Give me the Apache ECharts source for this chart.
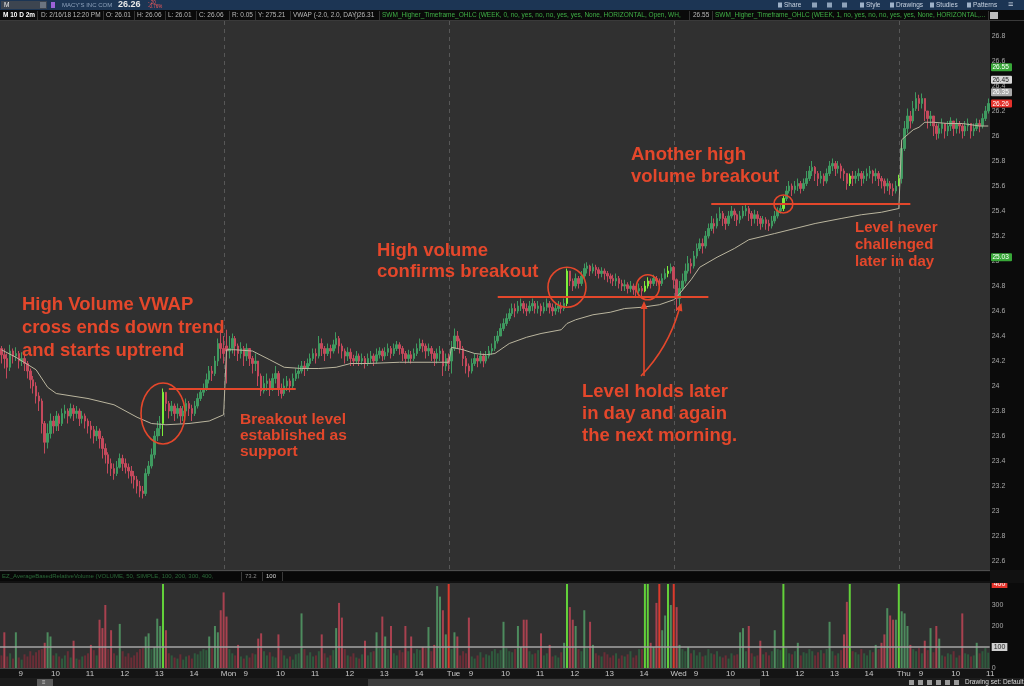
<!DOCTYPE html>
<html><head><meta charset="utf-8">
<script src="https://cdn.jsdelivr.net/npm/echarts@6/dist/echarts.min.js"></script>
<style>html,body{margin:0;padding:0;background:#303030;overflow:hidden}#c{width:1024px;height:686px}</style>
</head><body><div id="c"></div>
<script>
// ================= DATA =================
const dayNames = ['Fri','Mon','Tue','Wed','Thu'];
const dayOpen  = [24.30, 24.32, 24.20, 24.85, 25.66];

const friC = [24.25,24.22,24.15,24.28,24.24,24.26,24.2,24.22,24.18,24.12,
  24.05,24.0,23.92,23.88,23.7,23.55,23.62,23.72,23.68,23.76,
  23.7,23.78,23.8,23.76,23.82,23.78,23.8,23.74,23.76,23.72,
  23.68,23.65,23.6,23.64,23.58,23.5,23.45,23.38,23.34,23.3,
  23.35,23.42,23.38,23.35,23.32,23.28,23.25,23.2,23.16,23.14,
  23.3,23.36,23.45,23.6,23.66,23.7,23.95,23.86,23.8,23.84,
  23.78,23.82,23.76,23.8,23.86,23.82,23.78,23.84,23.9,23.95,
  23.98,24.05,24.12,24.1,24.2,24.34,24.3,24.26];
const friH = [24.32,24.3,24.26,24.33,24.3,24.31,24.28,24.27,24.25,24.2,
  24.14,24.08,24.03,23.95,23.9,23.72,23.7,23.78,23.76,23.8,
  23.78,23.82,23.85,23.82,23.86,23.85,23.84,23.82,23.8,23.78,
  23.74,23.72,23.68,23.68,23.66,23.6,23.54,23.47,23.42,23.38,
  23.4,23.46,23.45,23.42,23.38,23.36,23.32,23.28,23.24,23.2,
  23.34,23.4,23.5,23.64,23.72,23.76,23.98,23.94,23.88,23.88,
  23.86,23.86,23.84,23.84,23.9,23.88,23.85,23.88,23.94,23.98,
  24.02,24.1,24.16,24.16,24.24,24.38,24.45,24.4];
const friL = [24.18,24.14,24.06,24.12,24.18,24.2,24.14,24.16,24.12,24.06,
  23.98,23.94,23.86,23.8,23.62,23.46,23.5,23.58,23.62,23.64,
  23.64,23.68,23.74,23.7,23.74,23.72,23.74,23.68,23.7,23.66,
  23.62,23.58,23.54,23.56,23.5,23.42,23.38,23.3,23.28,23.25,
  23.28,23.34,23.32,23.3,23.26,23.22,23.18,23.14,23.11,23.1,
  23.12,23.28,23.34,23.42,23.56,23.6,23.6,23.8,23.74,23.76,
  23.72,23.74,23.7,23.72,23.78,23.76,23.72,23.76,23.82,23.88,
  23.92,23.96,24.02,24.04,24.08,24.16,24.22,24.18];
const friV = [60,170,55,70,45,170,50,40,65,55,
  80,60,75,85,90,120,170,150,60,70,
  55,45,60,80,50,130,45,40,55,60,
  70,110,85,60,230,190,300,90,180,70,
  60,210,80,55,70,50,60,75,90,95,
  150,165,90,100,235,200,400,180,70,60,
  50,45,65,40,55,60,45,70,65,80,
  90,85,150,95,200,170,275,360];

const monC = [24.28,24.3,24.38,24.32,24.26,24.3,24.24,24.3,24.22,24.18,
  24.2,24.08,23.96,24.02,24.04,23.98,24.06,24.1,23.98,23.94,
  24.0,24.04,24.0,24.06,24.1,24.12,24.16,24.14,24.18,24.22,
  24.26,24.24,24.34,24.3,24.26,24.3,24.28,24.33,24.38,24.32,
  24.28,24.24,24.27,24.22,24.2,24.24,24.2,24.22,24.18,24.22,
  24.24,24.2,24.25,24.28,24.24,24.27,24.3,24.26,24.3,24.33,
  24.3,24.26,24.22,24.25,24.22,24.26,24.3,24.34,24.32,24.28,
  24.3,24.26,24.22,24.26,24.28,24.16,24.22,24.18];
const monH = [24.45,24.4,24.42,24.4,24.34,24.35,24.32,24.34,24.3,24.24,
  24.26,24.2,24.1,24.08,24.1,24.06,24.1,24.16,24.12,24.02,
  24.06,24.08,24.06,24.1,24.14,24.17,24.2,24.2,24.22,24.26,
  24.3,24.3,24.4,24.38,24.32,24.34,24.33,24.37,24.43,24.4,
  24.34,24.3,24.31,24.3,24.25,24.28,24.26,24.26,24.24,24.26,
  24.28,24.26,24.3,24.31,24.3,24.31,24.34,24.32,24.34,24.36,
  24.35,24.32,24.28,24.29,24.28,24.3,24.34,24.38,24.37,24.34,
  24.34,24.32,24.28,24.3,24.32,24.3,24.26,24.26];
const monL = [24.02,24.22,24.26,24.24,24.2,24.22,24.16,24.2,24.16,24.1,
  24.12,24.0,23.92,23.94,23.96,23.92,23.96,24.02,23.92,23.9,
  23.92,23.96,23.95,23.98,24.04,24.06,24.1,24.08,24.12,24.16,
  24.2,24.18,24.22,24.24,24.2,24.24,24.22,24.26,24.3,24.26,
  24.22,24.18,24.2,24.16,24.16,24.18,24.16,24.17,24.14,24.16,
  24.18,24.16,24.18,24.22,24.2,24.21,24.24,24.22,24.24,24.28,
  24.25,24.2,24.18,24.19,24.18,24.2,24.24,24.28,24.27,24.22,
  24.24,24.2,24.16,24.18,24.2,24.08,24.12,24.12];
const monV = [245,90,70,60,110,55,45,60,50,70,
  65,140,165,80,60,75,55,50,160,85,
  60,45,55,40,65,70,260,90,60,75,
  55,60,80,160,70,50,60,85,190,310,
  240,90,60,55,70,50,45,65,130,60,
  75,80,170,95,245,150,90,200,70,60,
  85,75,200,80,150,70,90,85,100,95,
  195,80,110,390,340,275,160,400];

const tueC = [24.3,24.4,24.36,24.3,24.22,24.16,24.12,24.18,24.22,24.2,
  24.24,24.2,24.24,24.28,24.3,24.36,24.4,24.46,24.5,24.54,
  24.58,24.62,24.6,24.64,24.66,24.62,24.6,24.64,24.66,24.62,
  24.64,24.6,24.63,24.66,24.63,24.6,24.62,24.64,24.62,24.66,
  24.92,24.84,24.8,24.86,24.82,24.88,24.94,24.96,24.92,24.95,
  24.93,24.9,24.92,24.9,24.88,24.86,24.84,24.86,24.82,24.8,
  24.81,24.78,24.8,24.77,24.76,24.78,24.76,24.8,24.84,24.82,
  24.86,24.84,24.82,24.86,24.9,24.92,24.95,24.85];
const tueH = [24.36,24.46,24.44,24.38,24.32,24.24,24.18,24.22,24.26,24.25,
  24.28,24.26,24.28,24.32,24.34,24.4,24.44,24.5,24.54,24.58,
  24.62,24.66,24.66,24.68,24.7,24.68,24.66,24.68,24.7,24.68,
  24.68,24.66,24.67,24.7,24.68,24.66,24.66,24.68,24.67,24.7,
  24.94,24.92,24.86,24.9,24.88,24.92,24.98,24.99,24.97,24.98,
  24.97,24.95,24.95,24.94,24.92,24.9,24.89,24.9,24.88,24.85,
  24.85,24.83,24.84,24.82,24.8,24.82,24.8,24.84,24.87,24.86,
  24.89,24.88,24.86,24.9,24.94,24.96,24.98,24.96];
const tueL = [24.1,24.28,24.3,24.26,24.16,24.1,24.07,24.1,24.16,24.15,
  24.18,24.15,24.18,24.22,24.25,24.28,24.34,24.4,24.44,24.48,
  24.52,24.56,24.55,24.58,24.6,24.58,24.56,24.58,24.6,24.58,
  24.58,24.56,24.58,24.6,24.58,24.56,24.57,24.59,24.58,24.6,
  24.64,24.8,24.76,24.78,24.78,24.8,24.86,24.9,24.88,24.9,
  24.88,24.86,24.87,24.85,24.83,24.82,24.8,24.8,24.78,24.76,
  24.76,24.74,24.75,24.73,24.72,24.74,24.72,24.75,24.78,24.78,
  24.8,24.8,24.78,24.8,24.85,24.87,24.9,24.78];
const tueV = [90,170,150,60,80,70,240,55,45,60,
  75,50,65,60,80,90,70,85,220,95,
  80,75,90,200,100,230,230,80,65,70,
  85,165,60,70,110,55,60,50,75,120,
  400,290,230,200,90,80,275,95,220,110,
  70,60,55,75,65,50,60,70,45,60,
  55,65,80,50,60,90,90,400,400,120,
  100,310,400,180,250,400,300,400];

const wedC = [24.7,24.78,24.84,24.92,24.98,24.96,25.04,25.1,25.14,25.12,
  25.2,25.26,25.3,25.28,25.34,25.38,25.34,25.3,25.36,25.4,
  25.37,25.33,25.36,25.4,25.42,25.38,25.34,25.37,25.34,25.3,
  25.33,25.3,25.28,25.32,25.36,25.4,25.42,25.5,25.56,25.6,
  25.57,25.6,25.62,25.58,25.62,25.66,25.72,25.75,25.7,25.66,
  25.68,25.64,25.7,25.76,25.78,25.74,25.76,25.72,25.7,25.62,
  25.68,25.66,25.68,25.7,25.66,25.68,25.7,25.72,25.68,25.7,
  25.66,25.64,25.6,25.62,25.58,25.56,25.6,25.66];
const wedH = [24.86,24.84,24.9,24.98,25.04,25.02,25.08,25.14,25.18,25.18,
  25.24,25.3,25.36,25.34,25.38,25.43,25.4,25.36,25.4,25.44,
  25.42,25.38,25.4,25.44,25.46,25.44,25.4,25.41,25.4,25.36,
  25.36,25.35,25.33,25.36,25.4,25.43,25.46,25.52,25.6,25.64,
  25.62,25.64,25.66,25.64,25.66,25.72,25.76,25.8,25.76,25.72,
  25.72,25.7,25.74,25.8,25.82,25.8,25.8,25.78,25.74,25.7,
  25.7,25.72,25.72,25.74,25.72,25.72,25.74,25.76,25.73,25.74,
  25.72,25.68,25.66,25.66,25.64,25.62,25.64,25.69];
const wedL = [24.6,24.62,24.76,24.82,24.9,24.9,24.94,25.02,25.08,25.06,
  25.1,25.18,25.24,25.22,25.26,25.32,25.28,25.25,25.28,25.34,
  25.32,25.28,25.3,25.34,25.36,25.32,25.28,25.3,25.28,25.25,
  25.27,25.25,25.24,25.26,25.3,25.34,25.38,25.4,25.48,25.54,
  25.52,25.54,25.56,25.54,25.56,25.6,25.64,25.68,25.64,25.6,
  25.62,25.6,25.62,25.68,25.72,25.68,25.7,25.66,25.64,25.57,
  25.6,25.6,25.62,25.64,25.6,25.62,25.64,25.66,25.62,25.64,
  25.6,25.58,25.54,25.56,25.53,25.52,25.54,25.6];
const wedV = [290,110,90,80,100,70,85,60,75,55,
  60,90,70,65,80,55,50,60,45,70,
  60,65,170,190,80,200,70,55,60,130,
  65,75,60,80,180,90,85,400,95,70,
  65,80,120,60,75,70,90,80,60,75,
  85,70,90,220,80,60,70,85,160,315,
  400,80,75,65,90,70,60,85,75,110,
  90,120,160,285,250,230,230,400];

const thuC = [25.9,26.06,26.16,26.12,26.22,26.3,26.26,26.3,26.2,26.14,
  26.16,26.08,26.02,26.06,26.1,26.04,26.08,26.12,26.06,26.1,
  26.08,26.04,26.08,26.1,26.04,26.06,26.1,26.08,26.14,26.2,26.26];
const thuH = [25.94,26.12,26.22,26.2,26.28,26.35,26.33,26.34,26.3,26.2,
  26.2,26.16,26.1,26.1,26.14,26.1,26.12,26.15,26.12,26.14,
  26.12,26.1,26.12,26.14,26.1,26.1,26.14,26.13,26.18,26.24,26.3];
const thuL = [25.62,25.88,26.02,26.06,26.1,26.2,26.2,26.22,26.12,26.06,
  26.08,26.0,25.97,25.98,26.02,25.98,26.0,26.04,26.0,26.02,
  26.02,25.98,26.0,26.04,25.98,26.0,26.04,26.03,26.06,26.12,26.18];
const thuV = [270,260,200,110,90,80,95,70,130,85,
  190,75,200,140,60,55,70,65,80,50,
  60,260,70,65,55,60,120,70,80,95,73];

// VWAP read at sample bars: [bar index, value]
const vwapPts = [
  [0,24.29],[5,24.23],[12,24.13],[16,23.99],[19,23.94],[30,23.9],[39,23.85],[47,23.75],[52,23.7],[57,23.69],[65,23.7],[72,23.72],[77,23.77],
  [78,24.29],[81,24.29],[87,24.28],[93,24.21],[98,24.15],[104,24.14],[110,24.14],[116,24.15],[121,24.18],[127,24.18],[138,24.19],[150,24.19],[155,24.19],
  [156,24.31],[160,24.29],[164,24.26],[168,24.25],[171,24.26],[176,24.34],[182,24.39],[187,24.42],[194,24.45],[196,24.5],[199,24.53],[205,24.57],[211,24.59],[216,24.62],[222,24.63],[228,24.65],[233,24.69],
  [234,24.71],[239,24.85],[242,24.95],[248,25.03],[254,25.1],[259,25.17],[268,25.22],[275,25.26],[282,25.3],[291,25.34],[298,25.37],[305,25.39],[311,25.42],
  [312,25.97],[316,26.05],[318,26.07],[320,26.11],[323,26.11],[328,26.1],[333,26.1],[339,26.08],[342,26.08]
];

// annotation levels: [fromBar, toBar, price]
const levels = [[58,102,23.976],[172,245,24.712],[246,315,25.456]];
// circled bars: [bar, price]
const circled = [[56,23.78],[196,24.79],[224,24.79],[271,25.456]];
// price-axis study bubbles
const tagValues = [26.55, 26.45, 26.35, 26.26, 25.03];
const volTicks = [0,100,200,300,400];

// ================= BUILD =================
const UP='#3f9a60', DN='#c4495c', LIME='#7cf03a', ANN='#e4472b', FONT='Liberation Sans';
function volColor(v, up){
  if (up) return v>=400 ? '#62d13a' : (v>=100 ? '#4d8b5e' : '#2f5a3d');
  return v>=400 ? '#dc3a2c' : (v>=100 ? '#a8414f' : '#6a2d36');
}
const days = [[friC,friH,friL,friV],[monC,monH,monL,monV],[tueC,tueH,tueL,tueV],[wedC,wedH,wedL,wedV],[thuC,thuH,thuL,thuV]];
const cats=[], candles=[], vols=[];
let prev=null;
days.forEach((d,di)=>{
  const [C,H,L,V]=d;
  C.forEach((c,k)=>{
    const mins=8*60+30+5*k, hh=Math.floor(mins/60), mm=mins%60;
    cats.push(dayNames[di]+' '+hh+':'+String(mm).padStart(2,'0'));
    const o = k===0 ? dayOpen[di] : prev;
    const hi=Math.max(H[k],o,c), lo=Math.min(L[k],o,c);
    const up = c>=o, v=V[k];
    const it={value:[o,c,lo,hi]};
    if (v>=400 && up) it.itemStyle={color:LIME,color0:LIME,borderColor:LIME,borderColor0:LIME};
    candles.push(it);
    vols.push({value:v,itemStyle:{color:volColor(v,up)}});
    prev=c;
  });
});

const chart = echarts.init(document.getElementById('c'), null, {width:1024,height:686});
const GL=0, GR=34.3;
chart.setOption({
  animation:false,
  backgroundColor:'#303030',
  grid:[{left:GL,right:GR,top:11,bottom:100},{left:GL,right:GR,top:584,bottom:18}],
  xAxis:[
    {type:'category',gridIndex:0,data:cats,boundaryGap:true,axisLine:{show:false},axisTick:{show:false},axisLabel:{show:false},splitLine:{show:false}},
    {type:'category',gridIndex:1,data:cats,boundaryGap:true,z:10,axisLine:{show:false},axisTick:{show:false},splitLine:{show:false},
     axisLabel:{show:true,color:'#c8c8c8',fontSize:8,fontFamily:FONT,margin:2,padding:[0,0,0,4],
       interval:(i,v)=>{const t=v.split(' ')[1];return t.endsWith(':00')||(t==='8:30'&&i>0);},
       formatter:(v)=>{const p=v.split(' ');return p[1]==='8:30'?p[0]:p[1].split(':')[0];}}}
  ],
  yAxis:[
    {type:'value',gridIndex:0,position:'right',min:22.4,max:27.0,interval:0.2,z:10,splitLine:{show:false},axisLine:{show:false},axisTick:{show:false},
     axisLabel:{color:'#a8a8a8',fontSize:7,fontFamily:FONT,margin:2,showMinLabel:false,showMaxLabel:false}},
    {type:'value',gridIndex:1,position:'right',min:volTicks[0],max:volTicks[4],interval:100,z:10,splitLine:{show:false},axisLine:{show:false},axisTick:{show:false},
     axisLabel:{color:'#a8a8a8',fontSize:7,fontFamily:FONT,margin:2,
       formatter:(v)=>v===400?'{r|400}':(v===100?'{g|100}':String(v)),
       rich:{r:{backgroundColor:'#e5332b',color:'#fff',fontSize:7,padding:[1,2,0,2],fontFamily:FONT},
             g:{backgroundColor:'#cfcfcf',color:'#222',fontSize:7,padding:[1,2,0,2],fontFamily:FONT}}}}
  ],
  series:[
    {type:'candlestick',xAxisIndex:0,yAxisIndex:0,data:candles,barWidth:2,z:3,silent:true,
     itemStyle:{color:UP,color0:DN,borderColor:UP,borderColor0:DN,borderWidth:1},
     markLine:{silent:true,symbol:['none','none'],label:{show:false},lineStyle:{color:ANN,width:1.8,type:'solid'},
       data:levels.map(l=>[{coord:[l[0],l[2]]},{coord:[l[1],l[2]]}])}},
    {type:'line',xAxisIndex:0,yAxisIndex:0,data:vwapPts,showSymbol:false,silent:true,z:4,
     lineStyle:{color:'#bab59e',width:1}},
    {type:'bar',xAxisIndex:1,yAxisIndex:1,data:vols,barWidth:2,silent:true,z:3,
     markLine:{silent:true,symbol:['none','none'],label:{show:false},lineStyle:{color:'#a5a5a5',width:1.6,type:'solid'},data:[{yAxis:100}]}}
  ]
});

// ================= OVERLAY =================
const G=[];
function rect(x,y,w,h,fill,z){G.push({type:'rect',silent:true,z:z,shape:{x,y,width:w,height:h},style:{fill}});}
function line(x1,y1,x2,y2,stroke,w,z,dash){G.push({type:'line',silent:true,z:z,shape:{x1,y1,x2,y2},style:{stroke,lineWidth:w,lineDash:dash||null}});}
function text(x,y,s,o){G.push({type:'text',silent:true,z:(o&&o.z)||60,x,y,style:Object.assign({text:s,fill:'#bdbdbd',fontSize:6.5,fontFamily:FONT,verticalAlign:'middle',align:'left'},o||{})});}

// background panels
rect(990,10,34,676,'#0b0b0b',0);
rect(0,668,990,10,'#141414',0);
// day separators
for(let d=1; d<dayNames.length; d++){
  const i=d*78;
  const x=(chart.convertToPixel({xAxisIndex:0},i)+chart.convertToPixel({xAxisIndex:0},i-1))/2;
  line(Math.round(x)-0.5,21,Math.round(x)-0.5,570,'#575757',1,1,[4,4]);
}
// header row 1
rect(0,0,1024,10,'#1c3554',50);
rect(1,1,46,8,'#3d4550',51);
text(4,5,'M',{fill:'#f0f0f0',fontSize:6.5,z:52});
rect(40,2,6,6,'#6b7480',52);
rect(51,2,4,6,'#9b62d8',51);
text(62,5,"MACY'S INC COM",{fill:'#8ea2bb',fontSize:6,z:52});
text(118,5,'26.26',{fill:'#e8e8e8',fontSize:9,fontWeight:'bold',z:52});
text(148,3,'-.20',{fill:'#ff5a5a',fontSize:4.5,z:52});
text(148,7,'-0.76%',{fill:'#ff5a5a',fontSize:4.5,z:52});
[[784,'Share'],[866,'Style'],[896,'Drawings'],[936,'Studies'],[973,'Patterns']].forEach(a=>{
  rect(a[0]-6,2.5,4,5,'#9fb2c8',51); text(a[0],5,a[1],{fill:'#c9d4e2',z:52});});
[812,827,842].forEach(x=>rect(x,2.5,5,5,'#8fa3ba',51));
text(1008,5,'\u2261',{fill:'#c9d4e2',fontSize:9,z:52});
// header row 2
rect(0,10,1024,11,'#0a0a0a',50);
line(0,20.5,1024,20.5,'#3a3a3a',1,51);
[37,103,134,165,196,229,255,290,355,379,689,712,988].forEach(x=>line(x+0.5,11,x+0.5,20,'#333',1,51));
text(3,15.5,'M 10 D 2m',{fill:'#ffffff',fontWeight:'bold',z:52});
[[41,'D: 2/16/18 12:20 PM'],[106,'O: 26.01'],[137,'H: 26.06'],[168,'L: 26.01'],[199,'C: 26.06'],[232,'R: 0.05'],
 [258,'Y: 275.21'],[293,'VWAP (-2.0, 2.0, DAY)'],[358,'26.31'],[693,'26.55']].forEach(a=>text(a[0],15.5,a[1],{fill:'#b9b9b9',z:52}));
text(382,15.5,'SWM_Higher_Timeframe_OHLC (WEEK, 0, no, yes, no, no, yes, yes, None, HORIZONTAL, Open, WH, Low, Close, no)',{fill:'#3fae46',z:52,width:305,overflow:'truncate',ellipsis:''});
text(715,15.5,'SWM_Higher_Timeframe_OHLC (WEEK, 1, no, yes, no, no, yes, yes, None, HORIZONTAL, Open, PWH, PWL, PWC, no)',{fill:'#3fae46',z:52,width:272,overflow:'truncate',ellipsis:'...'});
rect(990,12,8,7,'#bcbcbc',51);
// volume header band
rect(0,570,1024,13,'#111111',50);
line(0,570.5,990,570.5,'#4d4d4d',1,51);
rect(0,572,990,9,'#080808',51);
[241,262,282].forEach(x=>line(x+0.5,572,x+0.5,581,'#3a3a3a',1,52));
text(2,576.5,'EZ_AverageBasedRelativeVolume (VOLUME, 50, SIMPLE, 100, 200, 300, 400, yes, no, yes)',{fill:'#2c6b3a',fontSize:6,z:53,width:236,overflow:'truncate',ellipsis:''});
text(245,576.5,'73.2',{fill:'#8a8a8a',fontSize:6,z:53});
text(266,576.5,'100',{fill:'#d8d8d8',fontSize:6,z:53});
line(0,668.5,990,668.5,'#4a4a4a',1,5);
// footer scrollbar
rect(0,678,1024,8,'#1c1c1c',50);
rect(368,679,392,7,'#3c3c3c',51);
rect(37,679,16,7,'#5c5c5c',51);
text(42,682.5,'\u2261',{fill:'#d0d0d0',fontSize:6,z:52});
[909,918,927,936,945,954].forEach(x=>rect(x,680,5,5,'#9a9a9a',51));
text(965,682.5,'Drawing set: Default',{fill:'#dcdcdc',fontSize:6.5,z:52});

// price-axis bubbles
const tagStyle=[['#38a838','#fff'],['#d8d8d8','#222'],['#a9a9a9','#fff'],['#e5312b','#fff'],['#38a838','#fff']];
tagValues.forEach((v,i)=>{
  const y=chart.convertToPixel({yAxisIndex:0},v);
  G.push({type:'rect',silent:true,z:60,shape:{x:991,y:y-4,width:21,height:8,r:1},style:{fill:tagStyle[i][0]}});
  text(992.5,y+0.3,v.toFixed(2),{fill:tagStyle[i][1],fontSize:6.5,z:61});
});

// annotations: circles
const radii=[[22,30.5],[19,20],[11.5,12.5],[9.5,9]];
circled.forEach((c,i)=>{
  const p=chart.convertToPixel({gridIndex:0},[c[0],c[1]]);
  G.push({type:'ellipse',silent:true,z:40,shape:{cx:p[0],cy:p[1],rx:radii[i][0],ry:radii[i][1]},style:{fill:null,stroke:ANN,lineWidth:1.6}});
});
// arrows
line(644,376,644,308,ANN,1.6,40);
G.push({type:'polygon',silent:true,z:40,shape:{points:[[644,301],[647.5,309],[640.5,309]]},style:{fill:ANN}});
G.push({type:'bezierCurve',silent:true,z:40,shape:{x1:641,y1:376,x2:679,y2:310,cpx1:668,cpy1:348},style:{stroke:ANN,lineWidth:1.6,fill:null}});
G.push({type:'polygon',silent:true,z:40,shape:{points:[[681.5,303],[682.3,311.5],[675.6,309.4]]},style:{fill:ANN}});
// annotation texts
function ann(x,top,s,size,lh){G.push({type:'text',silent:true,z:45,x,y:top,style:{text:s,fill:ANN,fontSize:size,fontWeight:'bold',fontFamily:FONT,lineHeight:lh,verticalAlign:'top',align:'left'}});}
ann(22,293,'High Volume VWAP\ncross ends down trend\nand starts uptrend',18.5,23);
ann(240,412,'Breakout level\nestablished as\nsupport',15.5,16);
ann(377,240.5,'High volume\nconfirms breakout',18.5,21);
ann(631,144,'Another high\nvolume breakout',18.5,22);
ann(582,381,'Level holds later\nin day and again\nthe next morning.',18.5,22);
ann(855,219.5,'Level never\nchallenged\nlater in day',15,17);

chart.setOption({graphic:{elements:G}});
</script></body></html>
